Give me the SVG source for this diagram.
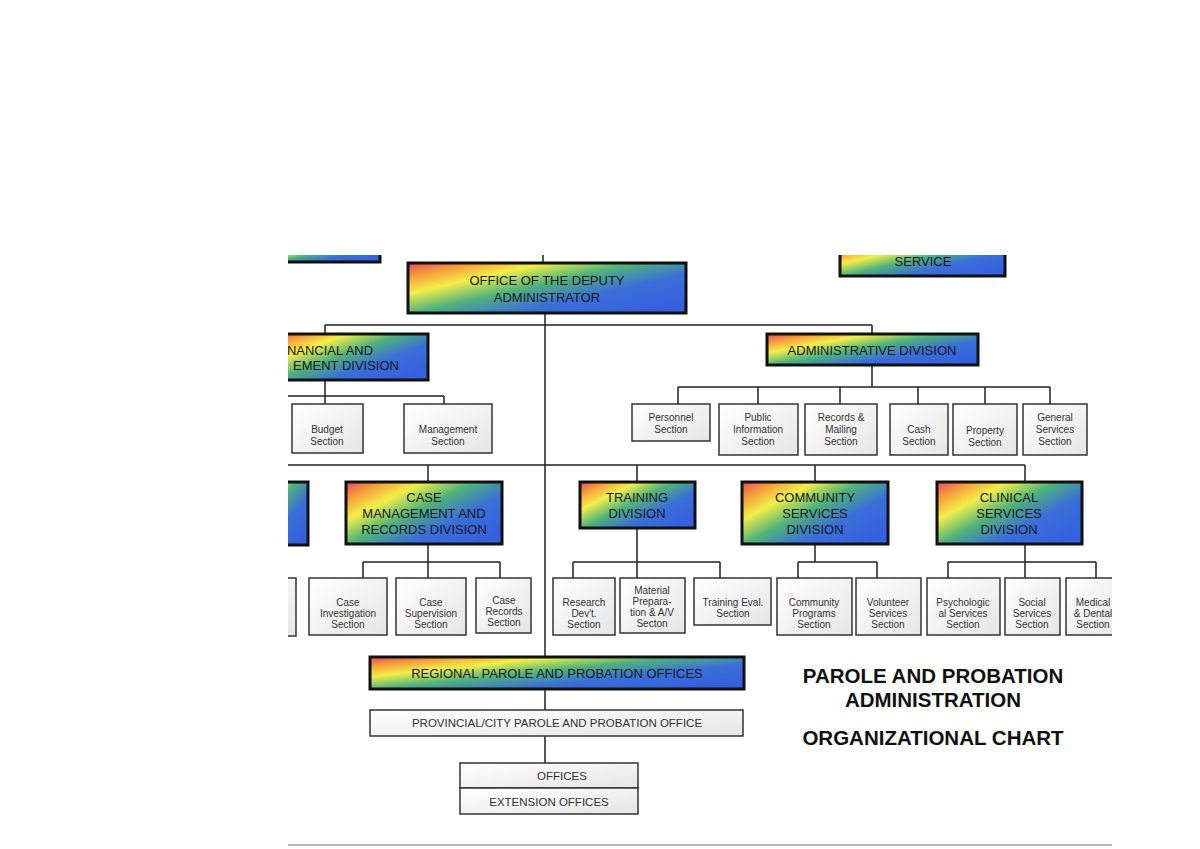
<svg xmlns="http://www.w3.org/2000/svg" width="1200" height="849" viewBox="0 0 1200 849">
<defs>
<linearGradient id="rb" x1="0" y1="0" x2="1" y2="0.8">
<stop offset="0" stop-color="#e84a5f"/><stop offset="0.15" stop-color="#f5a33a"/><stop offset="0.3" stop-color="#f2ee4a"/><stop offset="0.5" stop-color="#4fb37a"/><stop offset="0.72" stop-color="#3a6fd8"/><stop offset="1" stop-color="#3560e0"/>
</linearGradient>
<linearGradient id="gr" x1="0" y1="0" x2="1" y2="1">
<stop offset="0" stop-color="#ffffff"/><stop offset="1" stop-color="#e4e6e4"/>
</linearGradient>
<style>
.d{fill:url(#rb);stroke:#111;stroke-width:3}
.s{fill:url(#gr);stroke:#333;stroke-width:1.5}
.c{fill:none;stroke:#222;stroke-width:1.5}
text{font-family:"Liberation Sans",Arial,sans-serif;text-anchor:middle;fill:#222}
.dt{font-size:13px;fill:#1a1a1a}
.st{font-size:10px;fill:#333}
.tt{font-size:20.5px;font-weight:bold;fill:#111}
</style>
</defs>
<rect width="1200" height="849" fill="#fff"/>
<g id="connectors" class="c">
<path d="M543 255V263M545 313V657M325 325H872M325 325V334M872 325V334"/>
<path d="M325 380V396M288 396H444M325 396V404M444 396V404"/>
<path d="M872 365V387M678 387H1050M678 387V404M758 387V404M840 387V404M918 387V404M985 387V404M1050 387V404"/>
<path d="M288 465H1025M428 465V482M637 465V482M815 465V482M1025 465V482"/>
<path d="M428 544V578M363 562H500M363 562V578M500 562V578"/>
<path d="M637 528V578M573 562H720M573 562V578M720 562V578"/>
<path d="M815 544V562M798 562H877M798 562V578M877 562V578"/>
<path d="M1025 544V578M948 562H1096M948 562V578M1096 562V578"/>
<path d="M545 689V710M545 736V763"/>
</g>
<g id="top-left"><rect class="d" x="270" y="245" width="110" height="17"/></g>
<g id="service"><rect class="d" x="840" y="245" width="165" height="31"/><text class="dt" x="923" y="266">SERVICE</text></g>
<g id="deputy"><rect class="d" x="408" y="263" width="278" height="50"/><text class="dt" x="547" y="285">OFFICE OF THE DEPUTY</text><text class="dt" x="547" y="302">ADMINISTRATOR</text></g>
<g id="financial"><rect class="d" x="270" y="334" width="158" height="46"/><text class="dt" x="330" y="355">NANCIAL AND</text><text class="dt" x="346" y="370">EMENT DIVISION</text></g>
<g id="budget"><rect class="s" x="292" y="404" width="71" height="49"/><text class="st" x="327" y="433">Budget</text><text class="st" x="327" y="445">Section</text></g>
<g id="management"><rect class="s" x="404" y="404" width="88" height="49"/><text class="st" x="448" y="433">Management</text><text class="st" x="448" y="445">Section</text></g>
<g id="admin"><rect class="d" x="767" y="334" width="211" height="31"/><text class="dt" x="872" y="355">ADMINISTRATIVE DIVISION</text></g>
<g id="personnel"><rect class="s" x="632" y="404" width="78" height="37"/><text class="st" x="671" y="421">Personnel</text><text class="st" x="671" y="433">Section</text></g>
<g id="public"><rect class="s" x="719" y="404" width="79" height="51"/><text class="st" x="758" y="421">Public</text><text class="st" x="758" y="433">Information</text><text class="st" x="758" y="445">Section</text></g>
<g id="records"><rect class="s" x="805" y="404" width="72" height="51"/><text class="st" x="841" y="421">Records &amp;</text><text class="st" x="841" y="433">Mailing</text><text class="st" x="841" y="445">Section</text></g>
<g id="cash"><rect class="s" x="890" y="404" width="58" height="51"/><text class="st" x="919" y="433">Cash</text><text class="st" x="919" y="445">Section</text></g>
<g id="property"><rect class="s" x="953" y="404" width="64" height="51"/><text class="st" x="985" y="434">Property</text><text class="st" x="985" y="446">Section</text></g>
<g id="general"><rect class="s" x="1023" y="404" width="64" height="51"/><text class="st" x="1055" y="421">General</text><text class="st" x="1055" y="433">Services</text><text class="st" x="1055" y="445">Section</text></g>
<g id="left-div"><rect class="d" x="240" y="482" width="68" height="63"/></g>
<g id="casemgmt"><rect class="d" x="346" y="482" width="156" height="62"/><text class="dt" x="424" y="502">CASE</text><text class="dt" x="424" y="518">MANAGEMENT AND</text><text class="dt" x="424" y="534">RECORDS DIVISION</text></g>
<g id="training"><rect class="d" x="580" y="482" width="115" height="46"/><text class="dt" x="637" y="502">TRAINING</text><text class="dt" x="637" y="518">DIVISION</text></g>
<g id="community"><rect class="d" x="742" y="482" width="146" height="62"/><text class="dt" x="815" y="502">COMMUNITY</text><text class="dt" x="815" y="518">SERVICES</text><text class="dt" x="815" y="534">DIVISION</text></g>
<g id="clinical"><rect class="d" x="937" y="482" width="145" height="62"/><text class="dt" x="1009" y="502">CLINICAL</text><text class="dt" x="1009" y="518">SERVICES</text><text class="dt" x="1009" y="534">DIVISION</text></g>
<g id="left-sec"><rect class="s" x="250" y="578" width="46" height="58"/></g>
<g id="caseinv"><rect class="s" x="309" y="578" width="78" height="57"/><text class="st" x="348" y="606">Case</text><text class="st" x="348" y="617">Investigation</text><text class="st" x="348" y="628">Section</text></g>
<g id="casesup"><rect class="s" x="396" y="578" width="70" height="57"/><text class="st" x="431" y="606">Case</text><text class="st" x="431" y="617">Supervision</text><text class="st" x="431" y="628">Section</text></g>
<g id="caserec"><rect class="s" x="476" y="578" width="55" height="55"/><text class="st" x="504" y="604">Case</text><text class="st" x="504" y="615">Records</text><text class="st" x="504" y="626">Section</text></g>
<g id="research"><rect class="s" x="553" y="578" width="62" height="57"/><text class="st" x="584" y="606">Research</text><text class="st" x="584" y="617">Dev't.</text><text class="st" x="584" y="628">Section</text></g>
<g id="material"><rect class="s" x="620" y="578" width="65" height="55"/><text class="st" x="652" y="594">Material</text><text class="st" x="652" y="605">Prepara-</text><text class="st" x="652" y="616">tion &amp; A/V</text><text class="st" x="652" y="627">Secton</text></g>
<g id="trainingeval"><rect class="s" x="694" y="578" width="77" height="47"/><text class="st" x="733" y="606">Training Eval.</text><text class="st" x="733" y="617">Section</text></g>
<g id="commprog"><rect class="s" x="777" y="578" width="75" height="57"/><text class="st" x="814" y="606">Community</text><text class="st" x="814" y="617">Programs</text><text class="st" x="814" y="628">Section</text></g>
<g id="volunteer"><rect class="s" x="856" y="578" width="65" height="57"/><text class="st" x="888" y="606">Volunteer</text><text class="st" x="888" y="617">Services</text><text class="st" x="888" y="628">Section</text></g>
<g id="psych"><rect class="s" x="927" y="578" width="73" height="57"/><text class="st" x="963" y="606">Psychologic</text><text class="st" x="963" y="617">al Services</text><text class="st" x="963" y="628">Section</text></g>
<g id="social"><rect class="s" x="1005" y="578" width="55" height="57"/><text class="st" x="1032" y="606">Social</text><text class="st" x="1032" y="617">Services</text><text class="st" x="1032" y="628">Section</text></g>
<g id="medical"><rect class="s" x="1066" y="578" width="54" height="57"/><text class="st" x="1093" y="606">Medical</text><text class="st" x="1093" y="617">&amp; Dental</text><text class="st" x="1093" y="628">Section</text></g>
<rect x="1112" y="560" width="88" height="90" fill="#fff"/>
<rect x="0" y="0" width="1200" height="255" fill="#fff"/>
<rect x="0" y="0" width="288" height="849" fill="#fff"/>
<g id="regional"><rect class="d" x="370" y="657" width="374" height="32"/><text class="dt" x="557" y="678">REGIONAL PAROLE AND PROBATION OFFICES</text></g>
<g id="provincial"><rect class="s" x="370" y="710" width="373" height="26"/><text class="st" x="557" y="727" style="font-size:11.5px">PROVINCIAL/CITY PAROLE AND PROBATION OFFICE</text></g>
<g id="offices"><rect class="s" x="460" y="763" width="178" height="25"/><text class="st" x="562" y="780" style="font-size:11.5px">OFFICES</text></g>
<g id="extension"><rect class="s" x="460" y="788" width="178" height="26"/><text class="st" x="549" y="806" style="font-size:11.5px">EXTENSION OFFICES</text></g>
<g id="title"><text class="tt" x="933" y="683">PAROLE AND PROBATION</text><text class="tt" x="933" y="707">ADMINISTRATION</text><text class="tt" x="933" y="745">ORGANIZATIONAL CHART</text></g>
<line x1="288" y1="845" x2="1112" y2="845" stroke="#bbb" stroke-width="2"/>
</svg>
